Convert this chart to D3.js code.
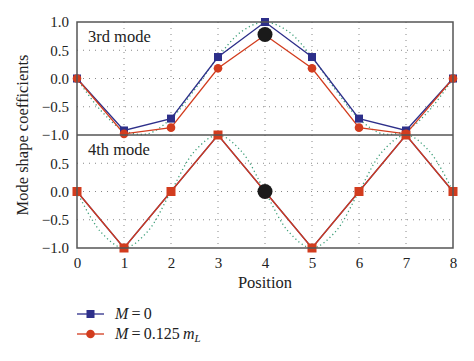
<!DOCTYPE html>
<html><head><meta charset="utf-8">
<script src="https://cdn.jsdelivr.net/npm/d3@7"></script>
<style>body{margin:0;background:#fff}svg{display:block}text{font-family:"Liberation Serif","DejaVu Serif",serif;fill:#222}</style>
</head><body>
<script>
const positions = [0,1,2,3,4,5,6,7,8];
const mode3_M0 = [0,-0.92,-0.71,0.38,1.0,0.38,-0.71,-0.92,0];
const mode3_M125 = [0,-0.98,-0.87,0.18,0.77,0.18,-0.87,-0.98,0];
const mode4_M0 = [0,-1,0,1,0,-1,0,1,0];
const mode4_M125 = [0,-1,0,1,0,-1,0,1,0];
const refX = [0,0.5,1,1.5,2,2.5,3,3.5,4,4.5,5,5.5,6,6.5,7,7.5,8];
const mode3_ref = [0,-0.56,-0.92,-0.98,-0.71,-0.20,0.38,0.83,1.0,0.83,0.38,-0.20,-0.71,-0.98,-0.92,-0.56,0];
const mode4_ref = [0,-0.71,-1,-0.71,0,0.71,1,0.71,0,-0.71,-1,-0.71,0,0.71,1,0.71,0];
const massPos = 4;
const mode3_mass = 0.78;
const mode4_mass = 0;
const xTicks = [0,1,2,3,4,5,6,7,8];
const topTicks = [1.0,0.5,0.0,-0.5,-1.0];
const botTicks = [0.5,0.0,-0.5,-1.0];
const panelTitles = ["3rd mode","4th mode"];
const legendLabels = ["M=0","M=0.125 m_L"];

const W=474,H=361;
const L=77,R=453;
const blue="#2d2f8a", red="#d23c1e", green="#3c9e78";
const svg=d3.select("body").append("svg").attr("width",W).attr("height",H);
const x=d3.scaleLinear().domain([0,8]).range([L,R]);
const yTop=d3.scaleLinear().domain([-1,1]).range([135,22]);
const yBot=d3.scaleLinear().domain([-1,1]).range([248,135]);
const fmt=d=>d3.format(".1f")(d).replace("-","\u2212");

function panel(y, ticks, title, refVals, blueVals, redVals, massVal, redShape){
  const g=svg.append("g");
  g.selectAll(".gx").data(xTicks.slice(1,-1)).join("line")
    .attr("x1",d=>x(d)).attr("x2",d=>x(d)).attr("y1",y(1)).attr("y2",y(-1))
    .attr("stroke","#888").attr("stroke-width",1).attr("stroke-dasharray","1,5");
  g.selectAll(".gy").data([0.5,0,-0.5]).join("line")
    .attr("x1",L).attr("x2",R).attr("y1",d=>y(d)).attr("y2",d=>y(d))
    .attr("stroke","#888").attr("stroke-width",1).attr("stroke-dasharray","1,5");
  const ax=g.append("g").attr("transform",`translate(${L},0)`)
    .call(d3.axisLeft(y).tickValues(ticks).tickSize(0).tickPadding(8).tickFormat(fmt));
  ax.select(".domain").remove();
  ax.selectAll("text").attr("font-size",15).attr("fill","#222");
  const ref=refX.map((d,i)=>[d,refVals[i]]);
  g.append("path").datum(ref)
    .attr("d",d3.line().x(d=>x(d[0])).y(d=>y(d[1])).curve(d3.curveCatmullRom))
    .attr("fill","none").attr("stroke",green).attr("stroke-width",1.3).attr("stroke-dasharray","1.2,2.8");
  const line=d3.line().x((d,i)=>x(positions[i])).y(d=>y(d));
  g.append("path").datum(blueVals).attr("d",line).attr("fill","none").attr("stroke",blue).attr("stroke-width",1.3);
  g.append("path").datum(redVals).attr("d",line).attr("fill","none").attr("stroke",red).attr("stroke-width",1.3);
  g.selectAll(".bs").data(blueVals).join("rect")
    .attr("x",(d,i)=>x(positions[i])-4).attr("y",d=>y(d)-4).attr("width",8).attr("height",8).attr("fill",blue);
  if(redShape==="circle"){
    g.selectAll(".rc").data(redVals).join("circle")
      .attr("cx",(d,i)=>x(positions[i])).attr("cy",d=>y(d)).attr("r",4.3).attr("fill",red);
  } else {
    g.selectAll(".rs").data(redVals).join("rect")
      .attr("x",(d,i)=>x(positions[i])-4.5).attr("y",d=>y(d)-4.5).attr("width",9).attr("height",9).attr("fill",red);
  }
  g.append("circle").attr("cx",x(massPos)).attr("cy",y(massVal)).attr("r",7.5).attr("fill","#1a1a1a");
  g.append("text").attr("x",88).attr("y",y(1)+20).attr("font-size",16.5).text(title);
}
panel(yTop, topTicks, panelTitles[0], mode3_ref, mode3_M0, mode3_M125, mode3_mass, "circle");
panel(yBot, botTicks, panelTitles[1], mode4_ref, mode4_M0, mode4_M125, mode4_mass, "square");

svg.append("rect").attr("x",L).attr("y",22).attr("width",R-L).attr("height",248-22)
  .attr("fill","none").attr("stroke","#555").attr("stroke-width",1.5);
svg.append("line").attr("x1",L).attr("x2",R).attr("y1",135).attr("y2",135).attr("stroke","#555").attr("stroke-width",1.5);

const xa=svg.append("g").attr("transform","translate(0,248)")
  .call(d3.axisBottom(x).tickValues(xTicks).tickSize(0).tickPadding(9).tickFormat(d3.format("d")));
xa.select(".domain").remove();
xa.selectAll("text").attr("font-size",15).attr("fill","#222");
svg.append("text").attr("x",(L+R)/2).attr("y",288).attr("text-anchor","middle").attr("font-size",16.5).text("Position");
svg.append("text").attr("transform","translate(28,135) rotate(-90)").attr("text-anchor","middle").attr("font-size",16.5).text("Mode shape coefficients");

const leg=[{c:blue,shape:"square",y:314},{c:red,shape:"circle",y:334}];
leg.forEach((l,i)=>{
  svg.append("line").attr("x1",77).attr("x2",104).attr("y1",l.y).attr("y2",l.y).attr("stroke",l.c).attr("stroke-width",1.3);
  if(l.shape==="square") svg.append("rect").attr("x",86.5).attr("y",l.y-4).attr("width",8).attr("height",8).attr("fill",l.c);
  else svg.append("circle").attr("cx",90.5).attr("cy",l.y).attr("r",4.3).attr("fill",l.c);
  const t=svg.append("text").attr("x",115).attr("y",l.y+5).attr("font-size",16);
  const parts=legendLabels[i].split("=");
  t.append("tspan").attr("font-style","italic").text("M");
  t.append("tspan").text("\u2009=\u2009");
  const rhs=parts[1];
  if(rhs.includes("m_L")){
    t.append("tspan").text(rhs.split(" ")[0]+"\u2009");
    t.append("tspan").attr("font-style","italic").text("m");
    t.append("tspan").attr("font-style","italic").attr("font-size",11).attr("dy",3).text("L");
  } else t.append("tspan").text(rhs);
});
</script>
</body></html>
